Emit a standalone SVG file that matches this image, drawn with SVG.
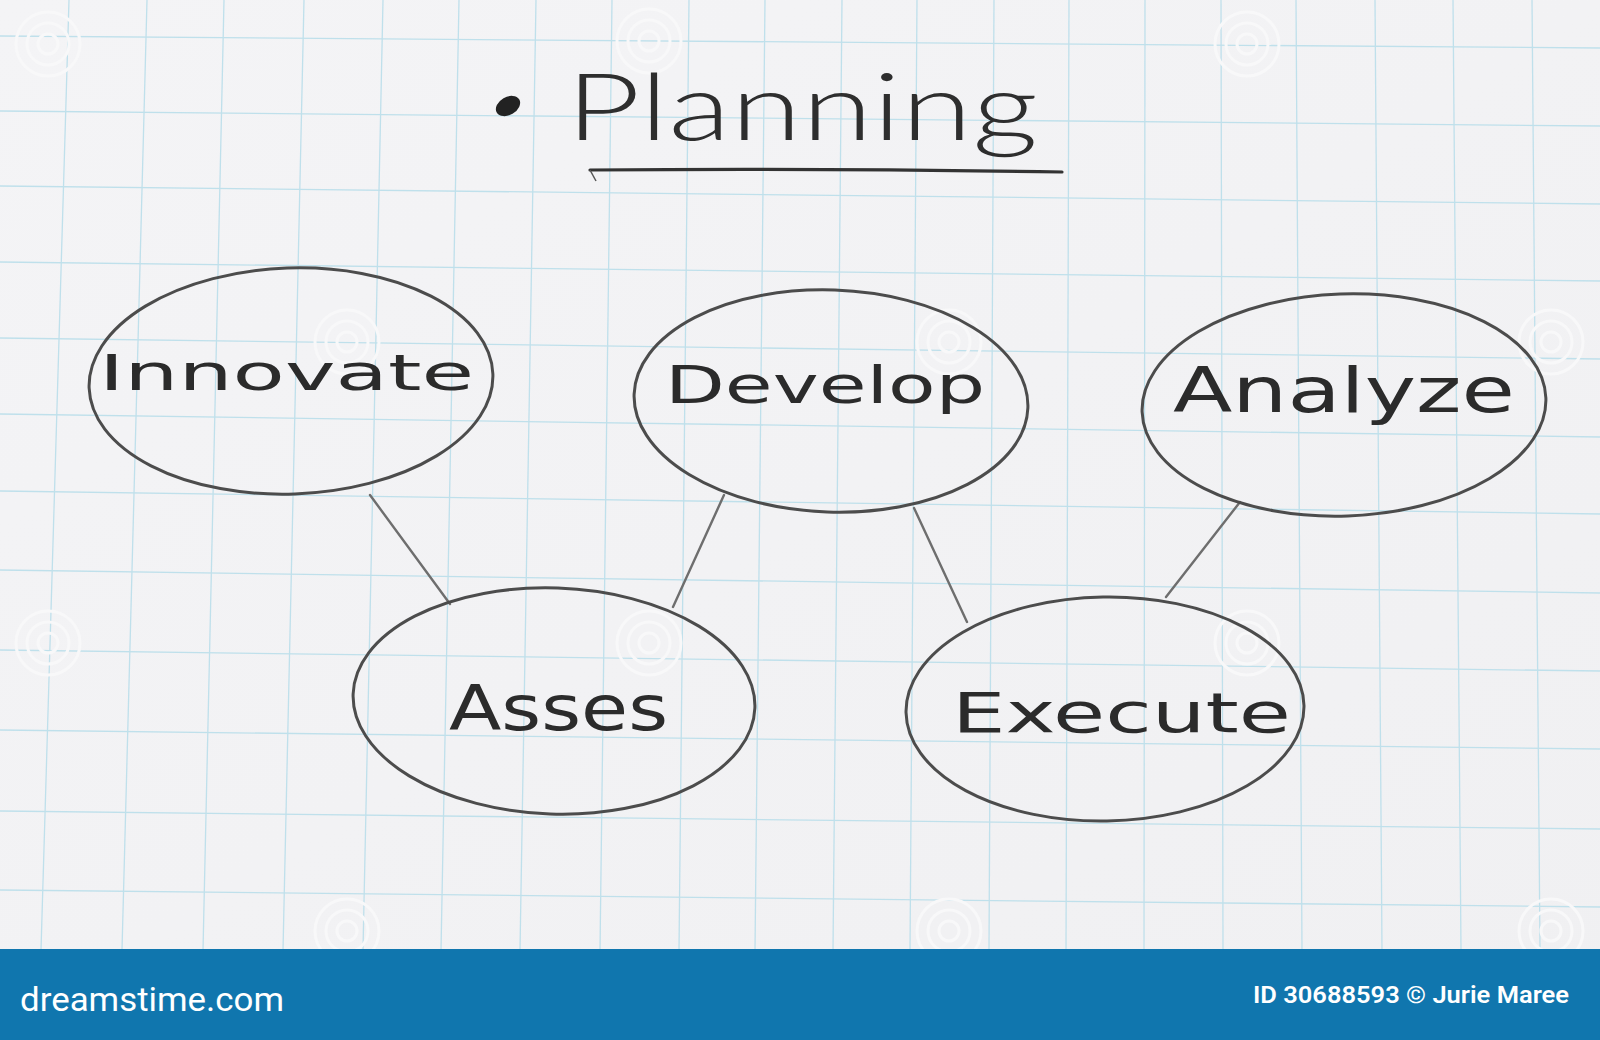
<svg xmlns="http://www.w3.org/2000/svg" width="1600" height="1040" viewBox="0 0 1600 1040">
<defs>
<style>
.grid line{stroke:#bfe0eb;stroke-width:1.3}
.wm circle{fill:none;stroke:#f8f8f9;stroke-width:3}
.node ellipse{fill:none;stroke:#4c4c4c;stroke-width:3}
.lbl{font-family:"DejaVu Sans","Liberation Sans",sans-serif;fill:#2b2b2b}
.conn line{stroke:#6e6e6e;stroke-width:2.4;stroke-linecap:round}
.bar{font-family:Roboto,"Liberation Sans",sans-serif;fill:#ffffff}
</style>
<linearGradient id="paper" x1="0" y1="0" x2="1" y2="1">
<stop offset="0" stop-color="#f4f4f6"/>
<stop offset="1" stop-color="#f0f0f2"/>
</linearGradient>
</defs>
<rect x="0" y="0" width="1600" height="1040" fill="url(#paper)"/>
<g class="grid">
<line x1="69" y1="0" x2="41" y2="950"/>
<line x1="147" y1="0" x2="122" y2="950"/>
<line x1="224" y1="0" x2="203" y2="950"/>
<line x1="304" y1="0" x2="283" y2="950"/>
<line x1="383" y1="0" x2="363" y2="950"/>
<line x1="459" y1="0" x2="441" y2="950"/>
<line x1="536" y1="0" x2="520" y2="950"/>
<line x1="612" y1="0" x2="600" y2="950"/>
<line x1="689" y1="0" x2="679" y2="950"/>
<line x1="765" y1="0" x2="755" y2="950"/>
<line x1="842" y1="0" x2="833" y2="950"/>
<line x1="917" y1="0" x2="910" y2="950"/>
<line x1="994" y1="0" x2="989" y2="950"/>
<line x1="1069" y1="0" x2="1066" y2="950"/>
<line x1="1145" y1="0" x2="1144" y2="950"/>
<line x1="1221" y1="0" x2="1223" y2="950"/>
<line x1="1296" y1="0" x2="1302" y2="950"/>
<line x1="1375" y1="0" x2="1382" y2="950"/>
<line x1="1453" y1="0" x2="1461" y2="950"/>
<line x1="1532" y1="0" x2="1540" y2="950"/>
<line x1="0" y1="36" x2="1600" y2="48"/>
<line x1="0" y1="111" x2="1600" y2="126"/>
<line x1="0" y1="186" x2="1600" y2="204"/>
<line x1="0" y1="262" x2="1600" y2="281"/>
<line x1="0" y1="338" x2="1600" y2="359"/>
<line x1="0" y1="414" x2="1600" y2="437"/>
<line x1="0" y1="491" x2="1600" y2="514"/>
<line x1="0" y1="570" x2="1600" y2="593"/>
<line x1="0" y1="650" x2="1600" y2="671"/>
<line x1="0" y1="730" x2="1600" y2="749"/>
<line x1="0" y1="811" x2="1600" y2="829"/>
<line x1="0" y1="890" x2="1600" y2="907"/>
</g>
<g class="wm">
<g transform="translate(48,44)"><circle r="32"/><circle r="21"/><circle r="10"/></g>
<g transform="translate(649,41)"><circle r="32"/><circle r="21"/><circle r="10"/></g>
<g transform="translate(1247,44)"><circle r="32"/><circle r="21"/><circle r="10"/></g>
<g transform="translate(347,342)"><circle r="32"/><circle r="21"/><circle r="10"/></g>
<g transform="translate(949,342)"><circle r="32"/><circle r="21"/><circle r="10"/></g>
<g transform="translate(1551,342)"><circle r="32"/><circle r="21"/><circle r="10"/></g>
<g transform="translate(48,643)"><circle r="32"/><circle r="21"/><circle r="10"/></g>
<g transform="translate(649,643)"><circle r="32"/><circle r="21"/><circle r="10"/></g>
<g transform="translate(1247,643)"><circle r="32"/><circle r="21"/><circle r="10"/></g>
<g transform="translate(347,931)"><circle r="32"/><circle r="21"/><circle r="10"/></g>
<g transform="translate(949,931)"><circle r="32"/><circle r="21"/><circle r="10"/></g>
<g transform="translate(1551,931)"><circle r="32"/><circle r="21"/><circle r="10"/></g>
</g>
<g id="title">
<ellipse cx="508" cy="106" rx="13" ry="9" transform="rotate(-30 508 106)" fill="#222"/>
<text x="566" y="140" font-size="92" font-family="Lato,'DejaVu Sans',sans-serif" font-weight="300" fill="#2e2e2e" textLength="472" lengthAdjust="spacingAndGlyphs">Planning</text>
<path d="M590 170 Q820 168 1062 172" fill="none" stroke="#333" stroke-width="3.2" stroke-linecap="round"/>
<path d="M590 170 L596 181" fill="none" stroke="#555" stroke-width="1.5"/>
</g>
<g class="conn">
<line x1="370" y1="495" x2="450" y2="604"/>
<line x1="724" y1="495" x2="673" y2="607"/>
<line x1="914" y1="508" x2="967" y2="622"/>
<line x1="1240" y1="502" x2="1166" y2="597"/>
</g>
<g id="innovate" class="node">
<ellipse cx="291" cy="381" rx="202" ry="113" transform="rotate(-2 291 381)"/>
<text class="lbl" x="99" y="390" font-size="50" textLength="375" lengthAdjust="spacingAndGlyphs">Innovate</text>
</g>
<g id="develop" class="node">
<ellipse cx="831" cy="401" rx="197" ry="111" transform="rotate(2 831 401)"/>
<text class="lbl" x="665" y="403" font-size="52" textLength="320" lengthAdjust="spacingAndGlyphs">Develop</text>
</g>
<g id="analyze" class="node">
<ellipse cx="1344" cy="405" rx="202" ry="111" transform="rotate(-2 1344 405)"/>
<text class="lbl" x="1173" y="412" font-size="62" textLength="342" lengthAdjust="spacingAndGlyphs">Analyze</text>
</g>
<g id="asses" class="node">
<ellipse cx="554" cy="701" rx="201" ry="113" transform="rotate(2 554 701)"/>
<text class="lbl" x="449" y="730" font-size="62" textLength="219" lengthAdjust="spacingAndGlyphs">Asses</text>
</g>
<g id="execute" class="node">
<ellipse cx="1105" cy="709" rx="199" ry="112" transform="rotate(-1 1105 709)"/>
<text class="lbl" x="952" y="732" font-size="56" textLength="339" lengthAdjust="spacingAndGlyphs">Execute</text>
</g>
<g id="footer">
<rect x="0" y="949" width="1600" height="91" fill="#1076ae"/>
<text class="bar" x="20" y="1011" font-size="34" textLength="264" lengthAdjust="spacingAndGlyphs">dreamstime.com</text>
<text class="bar" x="1253" y="1003" font-size="24" font-weight="600" textLength="316" lengthAdjust="spacingAndGlyphs">ID 30688593 © Jurie Maree</text>
</g>
</svg>
